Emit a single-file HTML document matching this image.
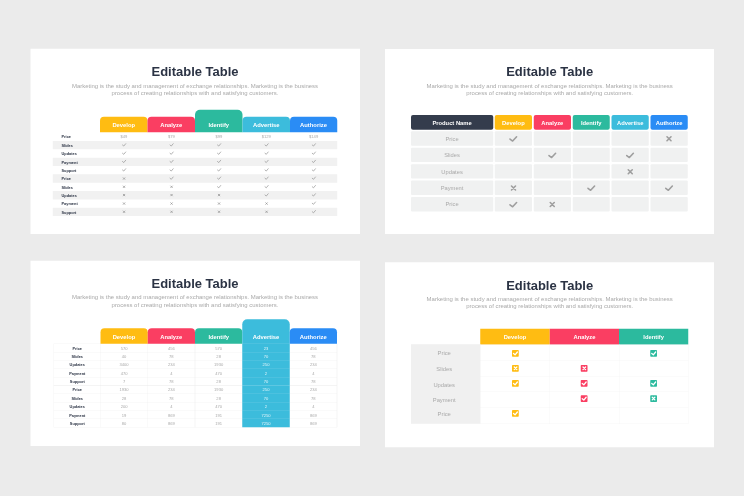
<!DOCTYPE html>
<html><head><meta charset="utf-8"><title>Editable Table</title>
<style>
html,body{margin:0;padding:0;}
body{width:744px;height:496px;overflow:hidden;background:#ebebeb;}
#w{position:absolute;left:0;top:0;width:2976px;height:1984px;transform:scale(0.25);transform-origin:0 0;font-family:"Liberation Sans",sans-serif;}
.b{position:absolute;display:block;overflow:visible;}
.t{position:absolute;white-space:nowrap;line-height:1;}
</style></head><body><div id="w">
<div class="b" style="left:122px;top:194.80px;width:1318px;height:741.20px;background:#fff;"></div>
<div class="t" style="left:780px;top:286.80px;font-size:51.88px;color:#2b3344;font-weight:700;transform:translate(-50%,-50%);transform-origin:50% 50%">Editable Table</div>
<div class="t" style="left:780px;top:344.40px;font-size:23.88px;color:#a9a9a9;font-weight:400;transform:translate(-50%,-50%);transform-origin:50% 50%">Marketing is the study and management of exchange relationships. Marketing is the business</div>
<div class="t" style="left:780px;top:373.20px;font-size:23.88px;color:#a9a9a9;font-weight:400;transform:translate(-50%,-50%);transform-origin:50% 50%">process of creating relationships with and satisfying customers.</div>
<div class="b" style="left:400px;top:467.40px;width:190.40px;height:61.40px;background:#ffbc12;border-radius:16px 16px 0px 0px;"></div>
<div class="t" style="left:495.20px;top:500.80px;font-size:24.80px;color:#fff;font-weight:700;transform:translate(-50%,-50%) scaleX(0.94);transform-origin:50% 50%">Develop</div>
<div class="b" style="left:590.40px;top:467.40px;width:189.60px;height:61.40px;background:#fa3e62;border-radius:16px 16px 0px 0px;"></div>
<div class="t" style="left:685.20px;top:500.80px;font-size:24.80px;color:#fff;font-weight:700;transform:translate(-50%,-50%) scaleX(0.94);transform-origin:50% 50%">Analyze</div>
<div class="b" style="left:780px;top:438.80px;width:190.40px;height:90px;background:#2cba9e;border-radius:20px 20px 0px 0px;"></div>
<div class="t" style="left:875.20px;top:500.80px;font-size:24.80px;color:#fff;font-weight:700;transform:translate(-50%,-50%) scaleX(0.94);transform-origin:50% 50%">Identify</div>
<div class="b" style="left:970.40px;top:467.40px;width:189.60px;height:61.40px;background:#3cbcdc;border-radius:16px 16px 0px 0px;"></div>
<div class="t" style="left:1065.20px;top:500.80px;font-size:24.80px;color:#fff;font-weight:700;transform:translate(-50%,-50%) scaleX(0.94);transform-origin:50% 50%">Advertise</div>
<div class="b" style="left:1160px;top:467.40px;width:188.80px;height:61.40px;background:#2a8cf5;border-radius:16px 16px 0px 0px;"></div>
<div class="t" style="left:1254.40px;top:500.80px;font-size:24.80px;color:#fff;font-weight:700;transform:translate(-50%,-50%) scaleX(0.94);transform-origin:50% 50%">Authorize</div>
<div class="t" style="left:246.40px;top:548.30px;font-size:16px;color:#2b3344;font-weight:700;transform:translate(0,-50%) scaleX(0.97);transform-origin:0 50%">Price</div>
<div class="t" style="left:495.20px;top:547.90px;font-size:16.40px;color:#aaaaaa;font-weight:400;transform:translate(-50%,-50%);transform-origin:50% 50%">$49</div>
<div class="t" style="left:685.20px;top:547.90px;font-size:16.40px;color:#aaaaaa;font-weight:400;transform:translate(-50%,-50%);transform-origin:50% 50%">$79</div>
<div class="t" style="left:875.20px;top:547.90px;font-size:16.40px;color:#aaaaaa;font-weight:400;transform:translate(-50%,-50%);transform-origin:50% 50%">$99</div>
<div class="t" style="left:1065.20px;top:547.90px;font-size:16.40px;color:#aaaaaa;font-weight:400;transform:translate(-50%,-50%);transform-origin:50% 50%">$129</div>
<div class="t" style="left:1254.40px;top:547.90px;font-size:16.40px;color:#aaaaaa;font-weight:400;transform:translate(-50%,-50%);transform-origin:50% 50%">$149</div>
<div class="b" style="left:211.20px;top:563.80px;width:1137.60px;height:33.40px;background:#f1f1f1;"></div>
<div class="t" style="left:246.40px;top:581.70px;font-size:16px;color:#2b3344;font-weight:700;transform:translate(0,-50%) scaleX(0.97);transform-origin:0 50%">Slides</div>
<svg class="b" style="left:485.60px;top:570.69px;width:20.80px;height:17.22px" viewBox="0 0 5.2 4.304"><path d="M1 2.24 L2.28 3.30 L4.20 1" fill="none" stroke="#929292" stroke-width="0.7" stroke-linecap="round" stroke-linejoin="round"/></svg>
<svg class="b" style="left:675.60px;top:570.69px;width:20.80px;height:17.22px" viewBox="0 0 5.2 4.304"><path d="M1 2.24 L2.28 3.30 L4.20 1" fill="none" stroke="#929292" stroke-width="0.7" stroke-linecap="round" stroke-linejoin="round"/></svg>
<svg class="b" style="left:865.60px;top:570.69px;width:20.80px;height:17.22px" viewBox="0 0 5.2 4.304"><path d="M1 2.24 L2.28 3.30 L4.20 1" fill="none" stroke="#929292" stroke-width="0.7" stroke-linecap="round" stroke-linejoin="round"/></svg>
<svg class="b" style="left:1055.60px;top:570.69px;width:20.80px;height:17.22px" viewBox="0 0 5.2 4.304"><path d="M1 2.24 L2.28 3.30 L4.20 1" fill="none" stroke="#929292" stroke-width="0.7" stroke-linecap="round" stroke-linejoin="round"/></svg>
<svg class="b" style="left:1244.80px;top:570.69px;width:20.80px;height:17.22px" viewBox="0 0 5.2 4.304"><path d="M1 2.24 L2.28 3.30 L4.20 1" fill="none" stroke="#929292" stroke-width="0.7" stroke-linecap="round" stroke-linejoin="round"/></svg>
<div class="t" style="left:246.40px;top:615.10px;font-size:16px;color:#2b3344;font-weight:700;transform:translate(0,-50%) scaleX(0.97);transform-origin:0 50%">Updates</div>
<svg class="b" style="left:485.60px;top:604.09px;width:20.80px;height:17.22px" viewBox="0 0 5.2 4.304"><path d="M1 2.24 L2.28 3.30 L4.20 1" fill="none" stroke="#929292" stroke-width="0.7" stroke-linecap="round" stroke-linejoin="round"/></svg>
<svg class="b" style="left:675.60px;top:604.09px;width:20.80px;height:17.22px" viewBox="0 0 5.2 4.304"><path d="M1 2.24 L2.28 3.30 L4.20 1" fill="none" stroke="#929292" stroke-width="0.7" stroke-linecap="round" stroke-linejoin="round"/></svg>
<svg class="b" style="left:865.60px;top:604.09px;width:20.80px;height:17.22px" viewBox="0 0 5.2 4.304"><path d="M1 2.24 L2.28 3.30 L4.20 1" fill="none" stroke="#929292" stroke-width="0.7" stroke-linecap="round" stroke-linejoin="round"/></svg>
<svg class="b" style="left:1055.60px;top:604.09px;width:20.80px;height:17.22px" viewBox="0 0 5.2 4.304"><path d="M1 2.24 L2.28 3.30 L4.20 1" fill="none" stroke="#929292" stroke-width="0.7" stroke-linecap="round" stroke-linejoin="round"/></svg>
<svg class="b" style="left:1244.80px;top:604.09px;width:20.80px;height:17.22px" viewBox="0 0 5.2 4.304"><path d="M1 2.24 L2.28 3.30 L4.20 1" fill="none" stroke="#929292" stroke-width="0.7" stroke-linecap="round" stroke-linejoin="round"/></svg>
<div class="b" style="left:211.20px;top:630.60px;width:1137.60px;height:33.40px;background:#f1f1f1;"></div>
<div class="t" style="left:246.40px;top:648.50px;font-size:16px;color:#2b3344;font-weight:700;transform:translate(0,-50%) scaleX(0.97);transform-origin:0 50%">Payment</div>
<svg class="b" style="left:485.60px;top:637.49px;width:20.80px;height:17.22px" viewBox="0 0 5.2 4.304"><path d="M1 2.24 L2.28 3.30 L4.20 1" fill="none" stroke="#929292" stroke-width="0.7" stroke-linecap="round" stroke-linejoin="round"/></svg>
<svg class="b" style="left:675.60px;top:637.49px;width:20.80px;height:17.22px" viewBox="0 0 5.2 4.304"><path d="M1 2.24 L2.28 3.30 L4.20 1" fill="none" stroke="#929292" stroke-width="0.7" stroke-linecap="round" stroke-linejoin="round"/></svg>
<svg class="b" style="left:865.60px;top:637.49px;width:20.80px;height:17.22px" viewBox="0 0 5.2 4.304"><path d="M1 2.24 L2.28 3.30 L4.20 1" fill="none" stroke="#929292" stroke-width="0.7" stroke-linecap="round" stroke-linejoin="round"/></svg>
<svg class="b" style="left:1055.60px;top:637.49px;width:20.80px;height:17.22px" viewBox="0 0 5.2 4.304"><path d="M1 2.24 L2.28 3.30 L4.20 1" fill="none" stroke="#929292" stroke-width="0.7" stroke-linecap="round" stroke-linejoin="round"/></svg>
<svg class="b" style="left:1244.80px;top:637.49px;width:20.80px;height:17.22px" viewBox="0 0 5.2 4.304"><path d="M1 2.24 L2.28 3.30 L4.20 1" fill="none" stroke="#929292" stroke-width="0.7" stroke-linecap="round" stroke-linejoin="round"/></svg>
<div class="t" style="left:246.40px;top:681.90px;font-size:16px;color:#2b3344;font-weight:700;transform:translate(0,-50%) scaleX(0.97);transform-origin:0 50%">Support</div>
<svg class="b" style="left:485.60px;top:670.89px;width:20.80px;height:17.22px" viewBox="0 0 5.2 4.304"><path d="M1 2.24 L2.28 3.30 L4.20 1" fill="none" stroke="#929292" stroke-width="0.7" stroke-linecap="round" stroke-linejoin="round"/></svg>
<svg class="b" style="left:675.60px;top:670.89px;width:20.80px;height:17.22px" viewBox="0 0 5.2 4.304"><path d="M1 2.24 L2.28 3.30 L4.20 1" fill="none" stroke="#929292" stroke-width="0.7" stroke-linecap="round" stroke-linejoin="round"/></svg>
<svg class="b" style="left:865.60px;top:670.89px;width:20.80px;height:17.22px" viewBox="0 0 5.2 4.304"><path d="M1 2.24 L2.28 3.30 L4.20 1" fill="none" stroke="#929292" stroke-width="0.7" stroke-linecap="round" stroke-linejoin="round"/></svg>
<svg class="b" style="left:1055.60px;top:670.89px;width:20.80px;height:17.22px" viewBox="0 0 5.2 4.304"><path d="M1 2.24 L2.28 3.30 L4.20 1" fill="none" stroke="#929292" stroke-width="0.7" stroke-linecap="round" stroke-linejoin="round"/></svg>
<svg class="b" style="left:1244.80px;top:670.89px;width:20.80px;height:17.22px" viewBox="0 0 5.2 4.304"><path d="M1 2.24 L2.28 3.30 L4.20 1" fill="none" stroke="#929292" stroke-width="0.7" stroke-linecap="round" stroke-linejoin="round"/></svg>
<div class="b" style="left:211.20px;top:697.40px;width:1137.60px;height:33.40px;background:#f1f1f1;"></div>
<div class="t" style="left:246.40px;top:715.30px;font-size:16px;color:#2b3344;font-weight:700;transform:translate(0,-50%) scaleX(0.97);transform-origin:0 50%">Price</div>
<svg class="b" style="left:488.80px;top:706.50px;width:14.40px;height:14.40px" viewBox="0 0 3.6 3.6"><path d="M1 1 L2.6 2.6 M2.6 1 L1 2.6" fill="none" stroke="#929292" stroke-width="0.75" stroke-linecap="round"/></svg>
<svg class="b" style="left:675.60px;top:704.29px;width:20.80px;height:17.22px" viewBox="0 0 5.2 4.304"><path d="M1 2.24 L2.28 3.30 L4.20 1" fill="none" stroke="#929292" stroke-width="0.7" stroke-linecap="round" stroke-linejoin="round"/></svg>
<svg class="b" style="left:865.60px;top:704.29px;width:20.80px;height:17.22px" viewBox="0 0 5.2 4.304"><path d="M1 2.24 L2.28 3.30 L4.20 1" fill="none" stroke="#929292" stroke-width="0.7" stroke-linecap="round" stroke-linejoin="round"/></svg>
<svg class="b" style="left:1055.60px;top:704.29px;width:20.80px;height:17.22px" viewBox="0 0 5.2 4.304"><path d="M1 2.24 L2.28 3.30 L4.20 1" fill="none" stroke="#929292" stroke-width="0.7" stroke-linecap="round" stroke-linejoin="round"/></svg>
<svg class="b" style="left:1244.80px;top:704.29px;width:20.80px;height:17.22px" viewBox="0 0 5.2 4.304"><path d="M1 2.24 L2.28 3.30 L4.20 1" fill="none" stroke="#929292" stroke-width="0.7" stroke-linecap="round" stroke-linejoin="round"/></svg>
<div class="t" style="left:246.40px;top:748.70px;font-size:16px;color:#2b3344;font-weight:700;transform:translate(0,-50%) scaleX(0.97);transform-origin:0 50%">Slides</div>
<svg class="b" style="left:488.80px;top:739.90px;width:14.40px;height:14.40px" viewBox="0 0 3.6 3.6"><path d="M1 1 L2.6 2.6 M2.6 1 L1 2.6" fill="none" stroke="#929292" stroke-width="0.75" stroke-linecap="round"/></svg>
<svg class="b" style="left:678.80px;top:739.90px;width:14.40px;height:14.40px" viewBox="0 0 3.6 3.6"><path d="M1 1 L2.6 2.6 M2.6 1 L1 2.6" fill="none" stroke="#929292" stroke-width="0.75" stroke-linecap="round"/></svg>
<svg class="b" style="left:865.60px;top:737.69px;width:20.80px;height:17.22px" viewBox="0 0 5.2 4.304"><path d="M1 2.24 L2.28 3.30 L4.20 1" fill="none" stroke="#929292" stroke-width="0.7" stroke-linecap="round" stroke-linejoin="round"/></svg>
<svg class="b" style="left:1055.60px;top:737.69px;width:20.80px;height:17.22px" viewBox="0 0 5.2 4.304"><path d="M1 2.24 L2.28 3.30 L4.20 1" fill="none" stroke="#929292" stroke-width="0.7" stroke-linecap="round" stroke-linejoin="round"/></svg>
<svg class="b" style="left:1244.80px;top:737.69px;width:20.80px;height:17.22px" viewBox="0 0 5.2 4.304"><path d="M1 2.24 L2.28 3.30 L4.20 1" fill="none" stroke="#929292" stroke-width="0.7" stroke-linecap="round" stroke-linejoin="round"/></svg>
<div class="b" style="left:211.20px;top:764.20px;width:1137.60px;height:33.40px;background:#f1f1f1;"></div>
<div class="t" style="left:246.40px;top:782.10px;font-size:16px;color:#2b3344;font-weight:700;transform:translate(0,-50%) scaleX(0.97);transform-origin:0 50%">Updates</div>
<svg class="b" style="left:488.80px;top:773.30px;width:14.40px;height:14.40px" viewBox="0 0 3.6 3.6"><path d="M1 1 L2.6 2.6 M2.6 1 L1 2.6" fill="none" stroke="#929292" stroke-width="0.75" stroke-linecap="round"/></svg>
<svg class="b" style="left:678.80px;top:773.30px;width:14.40px;height:14.40px" viewBox="0 0 3.6 3.6"><path d="M1 1 L2.6 2.6 M2.6 1 L1 2.6" fill="none" stroke="#929292" stroke-width="0.75" stroke-linecap="round"/></svg>
<svg class="b" style="left:868.80px;top:773.30px;width:14.40px;height:14.40px" viewBox="0 0 3.6 3.6"><path d="M1 1 L2.6 2.6 M2.6 1 L1 2.6" fill="none" stroke="#929292" stroke-width="0.75" stroke-linecap="round"/></svg>
<svg class="b" style="left:1055.60px;top:771.09px;width:20.80px;height:17.22px" viewBox="0 0 5.2 4.304"><path d="M1 2.24 L2.28 3.30 L4.20 1" fill="none" stroke="#929292" stroke-width="0.7" stroke-linecap="round" stroke-linejoin="round"/></svg>
<svg class="b" style="left:1244.80px;top:771.09px;width:20.80px;height:17.22px" viewBox="0 0 5.2 4.304"><path d="M1 2.24 L2.28 3.30 L4.20 1" fill="none" stroke="#929292" stroke-width="0.7" stroke-linecap="round" stroke-linejoin="round"/></svg>
<div class="t" style="left:246.40px;top:815.50px;font-size:16px;color:#2b3344;font-weight:700;transform:translate(0,-50%) scaleX(0.97);transform-origin:0 50%">Payment</div>
<svg class="b" style="left:488.80px;top:806.70px;width:14.40px;height:14.40px" viewBox="0 0 3.6 3.6"><path d="M1 1 L2.6 2.6 M2.6 1 L1 2.6" fill="none" stroke="#929292" stroke-width="0.75" stroke-linecap="round"/></svg>
<svg class="b" style="left:678.80px;top:806.70px;width:14.40px;height:14.40px" viewBox="0 0 3.6 3.6"><path d="M1 1 L2.6 2.6 M2.6 1 L1 2.6" fill="none" stroke="#929292" stroke-width="0.75" stroke-linecap="round"/></svg>
<svg class="b" style="left:868.80px;top:806.70px;width:14.40px;height:14.40px" viewBox="0 0 3.6 3.6"><path d="M1 1 L2.6 2.6 M2.6 1 L1 2.6" fill="none" stroke="#929292" stroke-width="0.75" stroke-linecap="round"/></svg>
<svg class="b" style="left:1058.80px;top:806.70px;width:14.40px;height:14.40px" viewBox="0 0 3.6 3.6"><path d="M1 1 L2.6 2.6 M2.6 1 L1 2.6" fill="none" stroke="#929292" stroke-width="0.75" stroke-linecap="round"/></svg>
<svg class="b" style="left:1244.80px;top:804.49px;width:20.80px;height:17.22px" viewBox="0 0 5.2 4.304"><path d="M1 2.24 L2.28 3.30 L4.20 1" fill="none" stroke="#929292" stroke-width="0.7" stroke-linecap="round" stroke-linejoin="round"/></svg>
<div class="b" style="left:211.20px;top:831px;width:1137.60px;height:33.40px;background:#f1f1f1;"></div>
<div class="t" style="left:246.40px;top:848.90px;font-size:16px;color:#2b3344;font-weight:700;transform:translate(0,-50%) scaleX(0.97);transform-origin:0 50%">Support</div>
<svg class="b" style="left:488.80px;top:840.10px;width:14.40px;height:14.40px" viewBox="0 0 3.6 3.6"><path d="M1 1 L2.6 2.6 M2.6 1 L1 2.6" fill="none" stroke="#929292" stroke-width="0.75" stroke-linecap="round"/></svg>
<svg class="b" style="left:678.80px;top:840.10px;width:14.40px;height:14.40px" viewBox="0 0 3.6 3.6"><path d="M1 1 L2.6 2.6 M2.6 1 L1 2.6" fill="none" stroke="#929292" stroke-width="0.75" stroke-linecap="round"/></svg>
<svg class="b" style="left:868.80px;top:840.10px;width:14.40px;height:14.40px" viewBox="0 0 3.6 3.6"><path d="M1 1 L2.6 2.6 M2.6 1 L1 2.6" fill="none" stroke="#929292" stroke-width="0.75" stroke-linecap="round"/></svg>
<svg class="b" style="left:1058.80px;top:840.10px;width:14.40px;height:14.40px" viewBox="0 0 3.6 3.6"><path d="M1 1 L2.6 2.6 M2.6 1 L1 2.6" fill="none" stroke="#929292" stroke-width="0.75" stroke-linecap="round"/></svg>
<svg class="b" style="left:1244.80px;top:837.89px;width:20.80px;height:17.22px" viewBox="0 0 5.2 4.304"><path d="M1 2.24 L2.28 3.30 L4.20 1" fill="none" stroke="#929292" stroke-width="0.7" stroke-linecap="round" stroke-linejoin="round"/></svg>
<div class="b" style="left:1540px;top:196px;width:1316px;height:740px;background:#fff;"></div>
<div class="t" style="left:2198.80px;top:287.40px;font-size:51.88px;color:#2b3344;font-weight:700;transform:translate(-50%,-50%);transform-origin:50% 50%">Editable Table</div>
<div class="t" style="left:2198.80px;top:344px;font-size:23.88px;color:#a9a9a9;font-weight:400;transform:translate(-50%,-50%);transform-origin:50% 50%">Marketing is the study and management of exchange relationships. Marketing is the business</div>
<div class="t" style="left:2198.80px;top:373.20px;font-size:23.88px;color:#a9a9a9;font-weight:400;transform:translate(-50%,-50%);transform-origin:50% 50%">process of creating relationships with and satisfying customers.</div>
<div class="b" style="left:1643.60px;top:459.60px;width:329.20px;height:59.60px;background:#343c4c;border-radius:8px;"></div>
<div class="t" style="left:1808.20px;top:492px;font-size:23.20px;color:#fff;font-weight:700;transform:translate(-50%,-50%);transform-origin:50% 50%">Product Name</div>
<div class="b" style="left:1979.20px;top:459.60px;width:148.80px;height:59.60px;background:#ffbc12;border-radius:8px;"></div>
<div class="t" style="left:2053.60px;top:492px;font-size:23.20px;color:#fff;font-weight:700;transform:translate(-50%,-50%);transform-origin:50% 50%">Develop</div>
<div class="b" style="left:2134.88px;top:459.60px;width:148.80px;height:59.60px;background:#fa3e62;border-radius:8px;"></div>
<div class="t" style="left:2209.28px;top:492px;font-size:23.20px;color:#fff;font-weight:700;transform:translate(-50%,-50%);transform-origin:50% 50%">Analyze</div>
<div class="b" style="left:2290.56px;top:459.60px;width:148.80px;height:59.60px;background:#2cba9e;border-radius:8px;"></div>
<div class="t" style="left:2364.96px;top:492px;font-size:23.20px;color:#fff;font-weight:700;transform:translate(-50%,-50%);transform-origin:50% 50%">Identify</div>
<div class="b" style="left:2446.24px;top:459.60px;width:148.80px;height:59.60px;background:#3cbcdc;border-radius:8px;"></div>
<div class="t" style="left:2520.64px;top:492px;font-size:23.20px;color:#fff;font-weight:700;transform:translate(-50%,-50%);transform-origin:50% 50%">Advertise</div>
<div class="b" style="left:2601.92px;top:459.60px;width:148.80px;height:59.60px;background:#2a8cf5;border-radius:8px;"></div>
<div class="t" style="left:2676.32px;top:492px;font-size:23.20px;color:#fff;font-weight:700;transform:translate(-50%,-50%);transform-origin:50% 50%">Authorize</div>
<div class="b" style="left:1643.60px;top:525.20px;width:329.20px;height:57.60px;background:#f0f1f1;border-radius:4px;"></div>
<div class="t" style="left:1808.20px;top:555.60px;font-size:23px;color:#a9a9a9;font-weight:400;transform:translate(-50%,-50%);transform-origin:50% 50%">Price</div>
<div class="b" style="left:1979.20px;top:525.20px;width:148.80px;height:57.60px;background:#f0f1f1;border-radius:4px;"></div>
<svg class="b" style="left:2036.40px;top:543.42px;width:34.40px;height:25.16px" viewBox="0 0 8.6 6.29"><path d="M1 3.32 L3.64 5.29 L7.60 1" fill="none" stroke="#9e9e9e" stroke-width="1.6" stroke-linecap="round" stroke-linejoin="round"/></svg>
<div class="b" style="left:2134.88px;top:525.20px;width:148.80px;height:57.60px;background:#f0f1f1;border-radius:4px;"></div>
<div class="b" style="left:2290.56px;top:525.20px;width:148.80px;height:57.60px;background:#f0f1f1;border-radius:4px;"></div>
<div class="b" style="left:2446.24px;top:525.20px;width:148.80px;height:57.60px;background:#f0f1f1;border-radius:4px;"></div>
<div class="b" style="left:2601.92px;top:525.20px;width:148.80px;height:57.60px;background:#f0f1f1;border-radius:4px;"></div>
<svg class="b" style="left:2664.32px;top:543.20px;width:24px;height:24px" viewBox="0 0 6.0 6.0"><path d="M1 1 L5.0 5.0 M5.0 1 L1 5.0" fill="none" stroke="#9e9e9e" stroke-width="1.6" stroke-linecap="round"/></svg>
<div class="b" style="left:1643.60px;top:590.88px;width:329.20px;height:57.60px;background:#f0f1f1;border-radius:4px;"></div>
<div class="t" style="left:1808.20px;top:621.28px;font-size:23px;color:#a9a9a9;font-weight:400;transform:translate(-50%,-50%);transform-origin:50% 50%">Slides</div>
<div class="b" style="left:1979.20px;top:590.88px;width:148.80px;height:57.60px;background:#f0f1f1;border-radius:4px;"></div>
<div class="b" style="left:2134.88px;top:590.88px;width:148.80px;height:57.60px;background:#f0f1f1;border-radius:4px;"></div>
<svg class="b" style="left:2192.08px;top:609.10px;width:34.40px;height:25.16px" viewBox="0 0 8.6 6.29"><path d="M1 3.32 L3.64 5.29 L7.60 1" fill="none" stroke="#9e9e9e" stroke-width="1.6" stroke-linecap="round" stroke-linejoin="round"/></svg>
<div class="b" style="left:2290.56px;top:590.88px;width:148.80px;height:57.60px;background:#f0f1f1;border-radius:4px;"></div>
<div class="b" style="left:2446.24px;top:590.88px;width:148.80px;height:57.60px;background:#f0f1f1;border-radius:4px;"></div>
<svg class="b" style="left:2503.44px;top:609.10px;width:34.40px;height:25.16px" viewBox="0 0 8.6 6.29"><path d="M1 3.32 L3.64 5.29 L7.60 1" fill="none" stroke="#9e9e9e" stroke-width="1.6" stroke-linecap="round" stroke-linejoin="round"/></svg>
<div class="b" style="left:2601.92px;top:590.88px;width:148.80px;height:57.60px;background:#f0f1f1;border-radius:4px;"></div>
<div class="b" style="left:1643.60px;top:656.56px;width:329.20px;height:57.60px;background:#f0f1f1;border-radius:4px;"></div>
<div class="t" style="left:1808.20px;top:686.96px;font-size:23px;color:#a9a9a9;font-weight:400;transform:translate(-50%,-50%);transform-origin:50% 50%">Updates</div>
<div class="b" style="left:1979.20px;top:656.56px;width:148.80px;height:57.60px;background:#f0f1f1;border-radius:4px;"></div>
<div class="b" style="left:2134.88px;top:656.56px;width:148.80px;height:57.60px;background:#f0f1f1;border-radius:4px;"></div>
<div class="b" style="left:2290.56px;top:656.56px;width:148.80px;height:57.60px;background:#f0f1f1;border-radius:4px;"></div>
<div class="b" style="left:2446.24px;top:656.56px;width:148.80px;height:57.60px;background:#f0f1f1;border-radius:4px;"></div>
<svg class="b" style="left:2508.64px;top:674.56px;width:24px;height:24px" viewBox="0 0 6.0 6.0"><path d="M1 1 L5.0 5.0 M5.0 1 L1 5.0" fill="none" stroke="#9e9e9e" stroke-width="1.6" stroke-linecap="round"/></svg>
<div class="b" style="left:2601.92px;top:656.56px;width:148.80px;height:57.60px;background:#f0f1f1;border-radius:4px;"></div>
<div class="b" style="left:1643.60px;top:722.24px;width:329.20px;height:57.60px;background:#f0f1f1;border-radius:4px;"></div>
<div class="t" style="left:1808.20px;top:752.64px;font-size:23px;color:#a9a9a9;font-weight:400;transform:translate(-50%,-50%);transform-origin:50% 50%">Payment</div>
<div class="b" style="left:1979.20px;top:722.24px;width:148.80px;height:57.60px;background:#f0f1f1;border-radius:4px;"></div>
<svg class="b" style="left:2041.60px;top:740.24px;width:24px;height:24px" viewBox="0 0 6.0 6.0"><path d="M1 1 L5.0 5.0 M5.0 1 L1 5.0" fill="none" stroke="#9e9e9e" stroke-width="1.6" stroke-linecap="round"/></svg>
<div class="b" style="left:2134.88px;top:722.24px;width:148.80px;height:57.60px;background:#f0f1f1;border-radius:4px;"></div>
<div class="b" style="left:2290.56px;top:722.24px;width:148.80px;height:57.60px;background:#f0f1f1;border-radius:4px;"></div>
<svg class="b" style="left:2347.76px;top:740.46px;width:34.40px;height:25.16px" viewBox="0 0 8.6 6.29"><path d="M1 3.32 L3.64 5.29 L7.60 1" fill="none" stroke="#9e9e9e" stroke-width="1.6" stroke-linecap="round" stroke-linejoin="round"/></svg>
<div class="b" style="left:2446.24px;top:722.24px;width:148.80px;height:57.60px;background:#f0f1f1;border-radius:4px;"></div>
<div class="b" style="left:2601.92px;top:722.24px;width:148.80px;height:57.60px;background:#f0f1f1;border-radius:4px;"></div>
<svg class="b" style="left:2659.12px;top:740.46px;width:34.40px;height:25.16px" viewBox="0 0 8.6 6.29"><path d="M1 3.32 L3.64 5.29 L7.60 1" fill="none" stroke="#9e9e9e" stroke-width="1.6" stroke-linecap="round" stroke-linejoin="round"/></svg>
<div class="b" style="left:1643.60px;top:787.92px;width:329.20px;height:57.60px;background:#f0f1f1;border-radius:4px;"></div>
<div class="t" style="left:1808.20px;top:818.32px;font-size:23px;color:#a9a9a9;font-weight:400;transform:translate(-50%,-50%);transform-origin:50% 50%">Price</div>
<div class="b" style="left:1979.20px;top:787.92px;width:148.80px;height:57.60px;background:#f0f1f1;border-radius:4px;"></div>
<svg class="b" style="left:2036.40px;top:806.14px;width:34.40px;height:25.16px" viewBox="0 0 8.6 6.29"><path d="M1 3.32 L3.64 5.29 L7.60 1" fill="none" stroke="#9e9e9e" stroke-width="1.6" stroke-linecap="round" stroke-linejoin="round"/></svg>
<div class="b" style="left:2134.88px;top:787.92px;width:148.80px;height:57.60px;background:#f0f1f1;border-radius:4px;"></div>
<svg class="b" style="left:2197.28px;top:805.92px;width:24px;height:24px" viewBox="0 0 6.0 6.0"><path d="M1 1 L5.0 5.0 M5.0 1 L1 5.0" fill="none" stroke="#9e9e9e" stroke-width="1.6" stroke-linecap="round"/></svg>
<div class="b" style="left:2290.56px;top:787.92px;width:148.80px;height:57.60px;background:#f0f1f1;border-radius:4px;"></div>
<div class="b" style="left:2446.24px;top:787.92px;width:148.80px;height:57.60px;background:#f0f1f1;border-radius:4px;"></div>
<div class="b" style="left:2601.92px;top:787.92px;width:148.80px;height:57.60px;background:#f0f1f1;border-radius:4px;"></div>
<div class="b" style="left:122px;top:1043.20px;width:1318px;height:740.40px;background:#fff;"></div>
<div class="t" style="left:780px;top:1133px;font-size:51.88px;color:#2b3344;font-weight:700;transform:translate(-50%,-50%);transform-origin:50% 50%">Editable Table</div>
<div class="t" style="left:780px;top:1188px;font-size:23.88px;color:#a9a9a9;font-weight:400;transform:translate(-50%,-50%);transform-origin:50% 50%">Marketing is the study and management of exchange relationships. Marketing is the business</div>
<div class="t" style="left:780px;top:1217.60px;font-size:23.88px;color:#a9a9a9;font-weight:400;transform:translate(-50%,-50%);transform-origin:50% 50%">process of creating relationships with and satisfying customers.</div>
<div class="b" style="left:214.80px;top:1374.20px;width:1133.20px;height:1.20px;background:#e9e9e9;"></div>
<div class="b" style="left:214.80px;top:1407.64px;width:1133.20px;height:1.20px;background:#e9e9e9;"></div>
<div class="b" style="left:214.80px;top:1441.08px;width:1133.20px;height:1.20px;background:#e9e9e9;"></div>
<div class="b" style="left:214.80px;top:1474.52px;width:1133.20px;height:1.20px;background:#e9e9e9;"></div>
<div class="b" style="left:214.80px;top:1507.96px;width:1133.20px;height:1.20px;background:#e9e9e9;"></div>
<div class="b" style="left:214.80px;top:1541.40px;width:1133.20px;height:1.20px;background:#e9e9e9;"></div>
<div class="b" style="left:214.80px;top:1574.84px;width:1133.20px;height:1.20px;background:#e9e9e9;"></div>
<div class="b" style="left:214.80px;top:1608.28px;width:1133.20px;height:1.20px;background:#e9e9e9;"></div>
<div class="b" style="left:214.80px;top:1641.72px;width:1133.20px;height:1.20px;background:#e9e9e9;"></div>
<div class="b" style="left:214.80px;top:1675.16px;width:1133.20px;height:1.20px;background:#e9e9e9;"></div>
<div class="b" style="left:214.80px;top:1708.60px;width:1133.20px;height:1.20px;background:#e9e9e9;"></div>
<div class="b" style="left:214.20px;top:1374.80px;width:1.20px;height:334.40px;background:#e9e9e9;"></div>
<div class="b" style="left:401px;top:1374.80px;width:1.20px;height:334.40px;background:#e9e9e9;"></div>
<div class="b" style="left:590.20px;top:1374.80px;width:1.20px;height:334.40px;background:#e9e9e9;"></div>
<div class="b" style="left:779.40px;top:1374.80px;width:1.20px;height:334.40px;background:#e9e9e9;"></div>
<div class="b" style="left:968.60px;top:1374.80px;width:1.20px;height:334.40px;background:#e9e9e9;"></div>
<div class="b" style="left:1158.20px;top:1374.80px;width:1.20px;height:334.40px;background:#e9e9e9;"></div>
<div class="b" style="left:1347.40px;top:1374.80px;width:1.20px;height:334.40px;background:#e9e9e9;"></div>
<div class="b" style="left:401.60px;top:1313.20px;width:189.20px;height:61.60px;background:#ffbc12;border-radius:16px 16px 0px 0px;"></div>
<div class="t" style="left:496.20px;top:1347.60px;font-size:24.80px;color:#fff;font-weight:700;transform:translate(-50%,-50%) scaleX(0.94);transform-origin:50% 50%">Develop</div>
<div class="b" style="left:590.80px;top:1313.20px;width:189.20px;height:61.60px;background:#fa3e62;border-radius:16px 16px 0px 0px;"></div>
<div class="t" style="left:685.40px;top:1347.60px;font-size:24.80px;color:#fff;font-weight:700;transform:translate(-50%,-50%) scaleX(0.94);transform-origin:50% 50%">Analyze</div>
<div class="b" style="left:780px;top:1313.20px;width:189.20px;height:61.60px;background:#2cba9e;border-radius:16px 16px 0px 0px;"></div>
<div class="t" style="left:874.60px;top:1347.60px;font-size:24.80px;color:#fff;font-weight:700;transform:translate(-50%,-50%) scaleX(0.94);transform-origin:50% 50%">Identify</div>
<div class="b" style="left:969.20px;top:1276.80px;width:189.60px;height:432.40px;background:#3cbcdc;border-radius:20px 20px 0px 0px;"></div>
<div class="b" style="left:969.20px;top:1374.20px;width:189.60px;height:1.20px;background:rgba(255,255,255,0.35);"></div>
<div class="b" style="left:969.20px;top:1407.64px;width:189.60px;height:1.20px;background:rgba(255,255,255,0.35);"></div>
<div class="b" style="left:969.20px;top:1441.08px;width:189.60px;height:1.20px;background:rgba(255,255,255,0.35);"></div>
<div class="b" style="left:969.20px;top:1474.52px;width:189.60px;height:1.20px;background:rgba(255,255,255,0.35);"></div>
<div class="b" style="left:969.20px;top:1507.96px;width:189.60px;height:1.20px;background:rgba(255,255,255,0.35);"></div>
<div class="b" style="left:969.20px;top:1541.40px;width:189.60px;height:1.20px;background:rgba(255,255,255,0.35);"></div>
<div class="b" style="left:969.20px;top:1574.84px;width:189.60px;height:1.20px;background:rgba(255,255,255,0.35);"></div>
<div class="b" style="left:969.20px;top:1608.28px;width:189.60px;height:1.20px;background:rgba(255,255,255,0.35);"></div>
<div class="b" style="left:969.20px;top:1641.72px;width:189.60px;height:1.20px;background:rgba(255,255,255,0.35);"></div>
<div class="b" style="left:969.20px;top:1675.16px;width:189.60px;height:1.20px;background:rgba(255,255,255,0.35);"></div>
<div class="t" style="left:1064px;top:1347.60px;font-size:24.80px;color:#fff;font-weight:700;transform:translate(-50%,-50%) scaleX(0.94);transform-origin:50% 50%">Advertise</div>
<div class="b" style="left:1158.80px;top:1313.20px;width:189.20px;height:61.60px;background:#2a8cf5;border-radius:16px 16px 0px 0px;"></div>
<div class="t" style="left:1253.40px;top:1347.60px;font-size:24.80px;color:#fff;font-weight:700;transform:translate(-50%,-50%) scaleX(0.94);transform-origin:50% 50%">Authorize</div>
<div class="t" style="left:308.80px;top:1393.12px;font-size:16px;color:#2b3344;font-weight:700;transform:translate(-50%,-50%) scaleX(0.97);transform-origin:50% 50%">Price</div>
<div class="t" style="left:496.20px;top:1393.12px;font-size:16.40px;color:#aaaaaa;font-weight:400;transform:translate(-50%,-50%);transform-origin:50% 50%">570</div>
<div class="t" style="left:685.40px;top:1393.12px;font-size:16.40px;color:#aaaaaa;font-weight:400;transform:translate(-50%,-50%);transform-origin:50% 50%">456</div>
<div class="t" style="left:874.60px;top:1393.12px;font-size:16.40px;color:#aaaaaa;font-weight:400;transform:translate(-50%,-50%);transform-origin:50% 50%">570</div>
<div class="t" style="left:1064px;top:1393.12px;font-size:16.40px;color:rgba(255,255,255,0.85);font-weight:400;transform:translate(-50%,-50%);transform-origin:50% 50%">23</div>
<div class="t" style="left:1253.40px;top:1393.12px;font-size:16.40px;color:#aaaaaa;font-weight:400;transform:translate(-50%,-50%);transform-origin:50% 50%">456</div>
<div class="t" style="left:308.80px;top:1426.56px;font-size:16px;color:#2b3344;font-weight:700;transform:translate(-50%,-50%) scaleX(0.97);transform-origin:50% 50%">Slides</div>
<div class="t" style="left:496.20px;top:1426.56px;font-size:16.40px;color:#aaaaaa;font-weight:400;transform:translate(-50%,-50%);transform-origin:50% 50%">40</div>
<div class="t" style="left:685.40px;top:1426.56px;font-size:16.40px;color:#aaaaaa;font-weight:400;transform:translate(-50%,-50%);transform-origin:50% 50%">78</div>
<div class="t" style="left:874.60px;top:1426.56px;font-size:16.40px;color:#aaaaaa;font-weight:400;transform:translate(-50%,-50%);transform-origin:50% 50%">28</div>
<div class="t" style="left:1064px;top:1426.56px;font-size:16.40px;color:rgba(255,255,255,0.85);font-weight:400;transform:translate(-50%,-50%);transform-origin:50% 50%">70</div>
<div class="t" style="left:1253.40px;top:1426.56px;font-size:16.40px;color:#aaaaaa;font-weight:400;transform:translate(-50%,-50%);transform-origin:50% 50%">78</div>
<div class="t" style="left:308.80px;top:1460px;font-size:16px;color:#2b3344;font-weight:700;transform:translate(-50%,-50%) scaleX(0.97);transform-origin:50% 50%">Updates</div>
<div class="t" style="left:496.20px;top:1460px;font-size:16.40px;color:#aaaaaa;font-weight:400;transform:translate(-50%,-50%);transform-origin:50% 50%">3400</div>
<div class="t" style="left:685.40px;top:1460px;font-size:16.40px;color:#aaaaaa;font-weight:400;transform:translate(-50%,-50%);transform-origin:50% 50%">234</div>
<div class="t" style="left:874.60px;top:1460px;font-size:16.40px;color:#aaaaaa;font-weight:400;transform:translate(-50%,-50%);transform-origin:50% 50%">1930</div>
<div class="t" style="left:1064px;top:1460px;font-size:16.40px;color:rgba(255,255,255,0.85);font-weight:400;transform:translate(-50%,-50%);transform-origin:50% 50%">250</div>
<div class="t" style="left:1253.40px;top:1460px;font-size:16.40px;color:#aaaaaa;font-weight:400;transform:translate(-50%,-50%);transform-origin:50% 50%">234</div>
<div class="t" style="left:308.80px;top:1493.44px;font-size:16px;color:#2b3344;font-weight:700;transform:translate(-50%,-50%) scaleX(0.97);transform-origin:50% 50%">Payment</div>
<div class="t" style="left:496.20px;top:1493.44px;font-size:16.40px;color:#aaaaaa;font-weight:400;transform:translate(-50%,-50%);transform-origin:50% 50%">470</div>
<div class="t" style="left:685.40px;top:1493.44px;font-size:16.40px;color:#aaaaaa;font-weight:400;transform:translate(-50%,-50%);transform-origin:50% 50%">4</div>
<div class="t" style="left:874.60px;top:1493.44px;font-size:16.40px;color:#aaaaaa;font-weight:400;transform:translate(-50%,-50%);transform-origin:50% 50%">470</div>
<div class="t" style="left:1064px;top:1493.44px;font-size:16.40px;color:rgba(255,255,255,0.85);font-weight:400;transform:translate(-50%,-50%);transform-origin:50% 50%">2</div>
<div class="t" style="left:1253.40px;top:1493.44px;font-size:16.40px;color:#aaaaaa;font-weight:400;transform:translate(-50%,-50%);transform-origin:50% 50%">4</div>
<div class="t" style="left:308.80px;top:1526.88px;font-size:16px;color:#2b3344;font-weight:700;transform:translate(-50%,-50%) scaleX(0.97);transform-origin:50% 50%">Support</div>
<div class="t" style="left:496.20px;top:1526.88px;font-size:16.40px;color:#aaaaaa;font-weight:400;transform:translate(-50%,-50%);transform-origin:50% 50%">7</div>
<div class="t" style="left:685.40px;top:1526.88px;font-size:16.40px;color:#aaaaaa;font-weight:400;transform:translate(-50%,-50%);transform-origin:50% 50%">78</div>
<div class="t" style="left:874.60px;top:1526.88px;font-size:16.40px;color:#aaaaaa;font-weight:400;transform:translate(-50%,-50%);transform-origin:50% 50%">28</div>
<div class="t" style="left:1064px;top:1526.88px;font-size:16.40px;color:rgba(255,255,255,0.85);font-weight:400;transform:translate(-50%,-50%);transform-origin:50% 50%">70</div>
<div class="t" style="left:1253.40px;top:1526.88px;font-size:16.40px;color:#aaaaaa;font-weight:400;transform:translate(-50%,-50%);transform-origin:50% 50%">78</div>
<div class="t" style="left:308.80px;top:1560.32px;font-size:16px;color:#2b3344;font-weight:700;transform:translate(-50%,-50%) scaleX(0.97);transform-origin:50% 50%">Price</div>
<div class="t" style="left:496.20px;top:1560.32px;font-size:16.40px;color:#aaaaaa;font-weight:400;transform:translate(-50%,-50%);transform-origin:50% 50%">1930</div>
<div class="t" style="left:685.40px;top:1560.32px;font-size:16.40px;color:#aaaaaa;font-weight:400;transform:translate(-50%,-50%);transform-origin:50% 50%">234</div>
<div class="t" style="left:874.60px;top:1560.32px;font-size:16.40px;color:#aaaaaa;font-weight:400;transform:translate(-50%,-50%);transform-origin:50% 50%">1930</div>
<div class="t" style="left:1064px;top:1560.32px;font-size:16.40px;color:rgba(255,255,255,0.85);font-weight:400;transform:translate(-50%,-50%);transform-origin:50% 50%">250</div>
<div class="t" style="left:1253.40px;top:1560.32px;font-size:16.40px;color:#aaaaaa;font-weight:400;transform:translate(-50%,-50%);transform-origin:50% 50%">234</div>
<div class="t" style="left:308.80px;top:1593.76px;font-size:16px;color:#2b3344;font-weight:700;transform:translate(-50%,-50%) scaleX(0.97);transform-origin:50% 50%">Slides</div>
<div class="t" style="left:496.20px;top:1593.76px;font-size:16.40px;color:#aaaaaa;font-weight:400;transform:translate(-50%,-50%);transform-origin:50% 50%">28</div>
<div class="t" style="left:685.40px;top:1593.76px;font-size:16.40px;color:#aaaaaa;font-weight:400;transform:translate(-50%,-50%);transform-origin:50% 50%">78</div>
<div class="t" style="left:874.60px;top:1593.76px;font-size:16.40px;color:#aaaaaa;font-weight:400;transform:translate(-50%,-50%);transform-origin:50% 50%">28</div>
<div class="t" style="left:1064px;top:1593.76px;font-size:16.40px;color:rgba(255,255,255,0.85);font-weight:400;transform:translate(-50%,-50%);transform-origin:50% 50%">70</div>
<div class="t" style="left:1253.40px;top:1593.76px;font-size:16.40px;color:#aaaaaa;font-weight:400;transform:translate(-50%,-50%);transform-origin:50% 50%">78</div>
<div class="t" style="left:308.80px;top:1627.20px;font-size:16px;color:#2b3344;font-weight:700;transform:translate(-50%,-50%) scaleX(0.97);transform-origin:50% 50%">Updates</div>
<div class="t" style="left:496.20px;top:1627.20px;font-size:16.40px;color:#aaaaaa;font-weight:400;transform:translate(-50%,-50%);transform-origin:50% 50%">200</div>
<div class="t" style="left:685.40px;top:1627.20px;font-size:16.40px;color:#aaaaaa;font-weight:400;transform:translate(-50%,-50%);transform-origin:50% 50%">4</div>
<div class="t" style="left:874.60px;top:1627.20px;font-size:16.40px;color:#aaaaaa;font-weight:400;transform:translate(-50%,-50%);transform-origin:50% 50%">470</div>
<div class="t" style="left:1064px;top:1627.20px;font-size:16.40px;color:rgba(255,255,255,0.85);font-weight:400;transform:translate(-50%,-50%);transform-origin:50% 50%">2</div>
<div class="t" style="left:1253.40px;top:1627.20px;font-size:16.40px;color:#aaaaaa;font-weight:400;transform:translate(-50%,-50%);transform-origin:50% 50%">4</div>
<div class="t" style="left:308.80px;top:1660.64px;font-size:16px;color:#2b3344;font-weight:700;transform:translate(-50%,-50%) scaleX(0.97);transform-origin:50% 50%">Payment</div>
<div class="t" style="left:496.20px;top:1660.64px;font-size:16.40px;color:#aaaaaa;font-weight:400;transform:translate(-50%,-50%);transform-origin:50% 50%">19</div>
<div class="t" style="left:685.40px;top:1660.64px;font-size:16.40px;color:#aaaaaa;font-weight:400;transform:translate(-50%,-50%);transform-origin:50% 50%">869</div>
<div class="t" style="left:874.60px;top:1660.64px;font-size:16.40px;color:#aaaaaa;font-weight:400;transform:translate(-50%,-50%);transform-origin:50% 50%">191</div>
<div class="t" style="left:1064px;top:1660.64px;font-size:16.40px;color:rgba(255,255,255,0.85);font-weight:400;transform:translate(-50%,-50%);transform-origin:50% 50%">7250</div>
<div class="t" style="left:1253.40px;top:1660.64px;font-size:16.40px;color:#aaaaaa;font-weight:400;transform:translate(-50%,-50%);transform-origin:50% 50%">869</div>
<div class="t" style="left:308.80px;top:1694.08px;font-size:16px;color:#2b3344;font-weight:700;transform:translate(-50%,-50%) scaleX(0.97);transform-origin:50% 50%">Support</div>
<div class="t" style="left:496.20px;top:1694.08px;font-size:16.40px;color:#aaaaaa;font-weight:400;transform:translate(-50%,-50%);transform-origin:50% 50%">80</div>
<div class="t" style="left:685.40px;top:1694.08px;font-size:16.40px;color:#aaaaaa;font-weight:400;transform:translate(-50%,-50%);transform-origin:50% 50%">869</div>
<div class="t" style="left:874.60px;top:1694.08px;font-size:16.40px;color:#aaaaaa;font-weight:400;transform:translate(-50%,-50%);transform-origin:50% 50%">191</div>
<div class="t" style="left:1064px;top:1694.08px;font-size:16.40px;color:rgba(255,255,255,0.85);font-weight:400;transform:translate(-50%,-50%);transform-origin:50% 50%">7250</div>
<div class="t" style="left:1253.40px;top:1694.08px;font-size:16.40px;color:#aaaaaa;font-weight:400;transform:translate(-50%,-50%);transform-origin:50% 50%">869</div>
<div class="b" style="left:1540px;top:1049.20px;width:1316px;height:740px;background:#fff;"></div>
<div class="t" style="left:2198.80px;top:1141px;font-size:51.88px;color:#2b3344;font-weight:700;transform:translate(-50%,-50%);transform-origin:50% 50%">Editable Table</div>
<div class="t" style="left:2198.80px;top:1196px;font-size:23.88px;color:#a9a9a9;font-weight:400;transform:translate(-50%,-50%);transform-origin:50% 50%">Marketing is the study and management of exchange relationships. Marketing is the business</div>
<div class="t" style="left:2198.80px;top:1223.60px;font-size:23.88px;color:#a9a9a9;font-weight:400;transform:translate(-50%,-50%);transform-origin:50% 50%">process of creating relationships with and satisfying customers.</div>
<div class="b" style="left:1920.80px;top:1314.80px;width:278px;height:62.80px;background:#ffbc12;"></div>
<div class="t" style="left:2059.80px;top:1348px;font-size:23.20px;color:#fff;font-weight:700;transform:translate(-50%,-50%);transform-origin:50% 50%">Develop</div>
<div class="b" style="left:2198.80px;top:1314.80px;width:277.60px;height:62.80px;background:#fa3e62;"></div>
<div class="t" style="left:2337.60px;top:1348px;font-size:23.20px;color:#fff;font-weight:700;transform:translate(-50%,-50%);transform-origin:50% 50%">Analyze</div>
<div class="b" style="left:2476.40px;top:1314.80px;width:276.40px;height:62.80px;background:#2cba9e;"></div>
<div class="t" style="left:2614.60px;top:1348px;font-size:23.20px;color:#fff;font-weight:700;transform:translate(-50%,-50%);transform-origin:50% 50%">Identify</div>
<div class="b" style="left:1643.60px;top:1377.20px;width:277.20px;height:317.60px;background:#f0f0f0;"></div>
<div class="b" style="left:1920.80px;top:1376.60px;width:832px;height:1.20px;background:#eeeeee;"></div>
<div class="b" style="left:1920.80px;top:1440.12px;width:832px;height:1.20px;background:#eeeeee;"></div>
<div class="b" style="left:1920.80px;top:1503.64px;width:832px;height:1.20px;background:#eeeeee;"></div>
<div class="b" style="left:1920.80px;top:1567.16px;width:832px;height:1.20px;background:#eeeeee;"></div>
<div class="b" style="left:1920.80px;top:1630.68px;width:832px;height:1.20px;background:#eeeeee;"></div>
<div class="b" style="left:1920.80px;top:1694.20px;width:832px;height:1.20px;background:#eeeeee;"></div>
<div class="b" style="left:1920.20px;top:1377.20px;width:1.20px;height:317.60px;background:#eeeeee;"></div>
<div class="b" style="left:2198.20px;top:1377.20px;width:1.20px;height:317.60px;background:#eeeeee;"></div>
<div class="b" style="left:2475.80px;top:1377.20px;width:1.20px;height:317.60px;background:#eeeeee;"></div>
<div class="b" style="left:2752.20px;top:1377.20px;width:1.20px;height:317.60px;background:#eeeeee;"></div>
<div class="t" style="left:1776.80px;top:1414.40px;font-size:23.20px;color:#a9a9a9;font-weight:400;transform:translate(-50%,-50%);transform-origin:50% 50%">Price</div>
<div class="t" style="left:1776.80px;top:1474.80px;font-size:23.20px;color:#a9a9a9;font-weight:400;transform:translate(-50%,-50%);transform-origin:50% 50%">Slides</div>
<div class="t" style="left:1776.80px;top:1541.20px;font-size:23.20px;color:#a9a9a9;font-weight:400;transform:translate(-50%,-50%);transform-origin:50% 50%">Updates</div>
<div class="t" style="left:1776.80px;top:1601.60px;font-size:23.20px;color:#a9a9a9;font-weight:400;transform:translate(-50%,-50%);transform-origin:50% 50%">Payment</div>
<div class="t" style="left:1776.80px;top:1658px;font-size:23.20px;color:#a9a9a9;font-weight:400;transform:translate(-50%,-50%);transform-origin:50% 50%">Price</div>
<div class="b" style="left:2048.20px;top:1400px;width:27.20px;height:27.20px;background:#ffbc12;border-radius:2.80px;"></div>
<svg class="b" style="left:2050.40px;top:1403.98px;width:23.60px;height:19.23px" viewBox="0 0 5.9 4.808"><path d="M1 2.52 L2.56 3.81 L4.90 1" fill="none" stroke="#fff" stroke-width="1.3" stroke-linecap="round" stroke-linejoin="round"/></svg>
<div class="b" style="left:2601px;top:1400px;width:27.20px;height:27.20px;background:#2cba9e;border-radius:2.80px;"></div>
<svg class="b" style="left:2603.20px;top:1403.98px;width:23.60px;height:19.23px" viewBox="0 0 5.9 4.808"><path d="M1 2.52 L2.56 3.81 L4.90 1" fill="none" stroke="#fff" stroke-width="1.3" stroke-linecap="round" stroke-linejoin="round"/></svg>
<div class="b" style="left:2048.20px;top:1460px;width:27.20px;height:27.20px;background:#ffbc12;border-radius:2.80px;"></div>
<svg class="b" style="left:2052.60px;top:1464.40px;width:18.40px;height:18.40px" viewBox="0 0 4.6 4.6"><path d="M1 1 L3.6 3.6 M3.6 1 L1 3.6" fill="none" stroke="#fff" stroke-width="1.3" stroke-linecap="round"/></svg>
<div class="b" style="left:2323.20px;top:1460px;width:27.20px;height:27.20px;background:#fa3e62;border-radius:2.80px;"></div>
<svg class="b" style="left:2327.60px;top:1464.40px;width:18.40px;height:18.40px" viewBox="0 0 4.6 4.6"><path d="M1 1 L3.6 3.6 M3.6 1 L1 3.6" fill="none" stroke="#fff" stroke-width="1.3" stroke-linecap="round"/></svg>
<div class="b" style="left:2048.20px;top:1519.60px;width:27.20px;height:27.20px;background:#ffbc12;border-radius:2.80px;"></div>
<svg class="b" style="left:2050.40px;top:1523.58px;width:23.60px;height:19.23px" viewBox="0 0 5.9 4.808"><path d="M1 2.52 L2.56 3.81 L4.90 1" fill="none" stroke="#fff" stroke-width="1.3" stroke-linecap="round" stroke-linejoin="round"/></svg>
<div class="b" style="left:2323.20px;top:1519.60px;width:27.20px;height:27.20px;background:#fa3e62;border-radius:2.80px;"></div>
<svg class="b" style="left:2325.40px;top:1523.58px;width:23.60px;height:19.23px" viewBox="0 0 5.9 4.808"><path d="M1 2.52 L2.56 3.81 L4.90 1" fill="none" stroke="#fff" stroke-width="1.3" stroke-linecap="round" stroke-linejoin="round"/></svg>
<div class="b" style="left:2601px;top:1519.60px;width:27.20px;height:27.20px;background:#2cba9e;border-radius:2.80px;"></div>
<svg class="b" style="left:2603.20px;top:1523.58px;width:23.60px;height:19.23px" viewBox="0 0 5.9 4.808"><path d="M1 2.52 L2.56 3.81 L4.90 1" fill="none" stroke="#fff" stroke-width="1.3" stroke-linecap="round" stroke-linejoin="round"/></svg>
<div class="b" style="left:2323.20px;top:1580.80px;width:27.20px;height:27.20px;background:#fa3e62;border-radius:2.80px;"></div>
<svg class="b" style="left:2325.40px;top:1584.78px;width:23.60px;height:19.23px" viewBox="0 0 5.9 4.808"><path d="M1 2.52 L2.56 3.81 L4.90 1" fill="none" stroke="#fff" stroke-width="1.3" stroke-linecap="round" stroke-linejoin="round"/></svg>
<div class="b" style="left:2601px;top:1580.80px;width:27.20px;height:27.20px;background:#2cba9e;border-radius:2.80px;"></div>
<svg class="b" style="left:2605.40px;top:1585.20px;width:18.40px;height:18.40px" viewBox="0 0 4.6 4.6"><path d="M1 1 L3.6 3.6 M3.6 1 L1 3.6" fill="none" stroke="#fff" stroke-width="1.3" stroke-linecap="round"/></svg>
<div class="b" style="left:2048.20px;top:1639.60px;width:27.20px;height:27.20px;background:#ffbc12;border-radius:2.80px;"></div>
<svg class="b" style="left:2050.40px;top:1643.58px;width:23.60px;height:19.23px" viewBox="0 0 5.9 4.808"><path d="M1 2.52 L2.56 3.81 L4.90 1" fill="none" stroke="#fff" stroke-width="1.3" stroke-linecap="round" stroke-linejoin="round"/></svg>
</div></body></html>
